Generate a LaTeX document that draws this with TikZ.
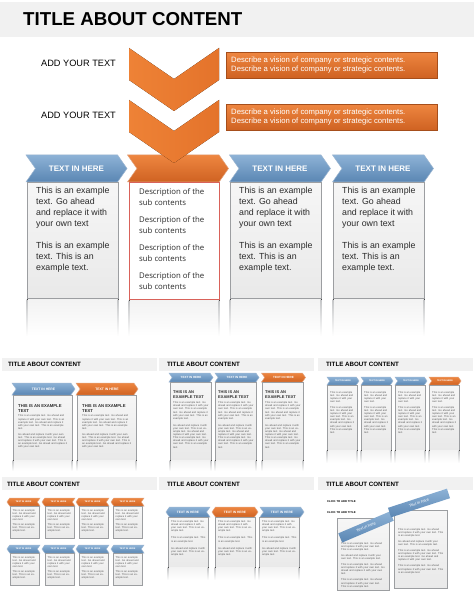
\documentclass[tikz,border=0pt]{standalone}
\usepackage{fontspec}
\setmainfont{Liberation Sans}
\newfontfamily\descfont{Open Sans}
\usetikzlibrary{shapes.symbols,positioning}

\definecolor{bandgray}{HTML}{F1F1F1}
\definecolor{blueT}{HTML}{8DB2D6}
\definecolor{blueB}{HTML}{5A86B3}
\definecolor{orT}{HTML}{EE8640}
\definecolor{orB}{HTML}{CF6222}
\definecolor{chevL}{HTML}{EE8236}
\definecolor{chevM}{HTML}{C35E1F}
\definecolor{chevR}{HTML}{E4732B}
\definecolor{cardline}{HTML}{9C9EA1}
\definecolor{cardtop}{HTML}{F6F6F6}
\definecolor{cardgray}{HTML}{E9E9E9}
\definecolor{boxred}{HTML}{D9625A}
\definecolor{bodygray}{HTML}{2B2B2B}

\newcommand\exa{This is an example text.}
\newcommand\goa{Go ahead and replace it with your own text.}
% faded mirror image below a card
\newcommand\reflbox[4]{%
  \fill[refl] (#1,#3) rectangle (#2,#4);
  \fill[edge] (#1-.4,#3) rectangle (#1+.4,#4);
  \fill[edge] (#2-.4,#3) rectangle (#2+.4,#4);}

\tikzset{
  tab/.style={signal, signal from=west, signal to=east, signal pointer angle=110,
    inner sep=0pt, text=white},
  bluetab/.style={tab, top color=blueT, bottom color=blueB, draw=blueB!60!white, line width=.5pt},
  orangetab/.style={tab, top color=orT, bottom color=orB, draw=orB!60!white, line width=.5pt},
  card/.style={draw=cardline, top color=cardtop, bottom color=cardgray, line width=.8pt},
  refl/.style={top color=black!5, bottom color=white},
  edge/.style={top color=cardline!60, bottom color=white},
  chev/.style={left color=chevL, middle color=chevM, right color=chevR},
  descbox/.style={top color=orT, bottom color=orB, draw=orB!80!black, line width=.3pt},
  ttl/.style={anchor=west, inner sep=0pt, font=\bfseries},
  body/.style={anchor=north west, align=left, inner sep=0pt, text=bodygray},
  tiny/.style={body, text=black!65, font=\fontsize{2.6}{3.1}\selectfont},
  ribbon/.style={top color=blueT, bottom color=blueB, text=white, inner sep=0pt,
    minimum height=10pt, font=\fontsize{4}{5}\selectfont},
}

\begin{document}
\begin{tikzpicture}[x=1pt,y=-1pt]
\useasboundingbox[fill=white] (0,0) rectangle (474,593);

% main slide
\fill[bandgray] (0,2) rectangle (474,37);
\node[ttl, font=\bfseries\fontsize{18.7}{20}\selectfont] (title) at (23,19.5) {TITLE ABOUT CONTENT};
\node[ttl, font=\fontsize{9.2}{10}\selectfont] (add1) at (41,63) {ADD YOUR TEXT};
\node[ttl, font=\fontsize{9.2}{10}\selectfont] (add2) at (41,115) {ADD YOUR TEXT};

\foreach \y/\n in {52/1,104/2}{
  \node[descbox, minimum width=211pt, minimum height=26pt, anchor=north west] (desc\n) at (226,\y) {};
  \node[body, text=white, font=\fontsize{7.7}{9}\selectfont, right=5pt of desc\n.west] (dtxt\n)
    {Describe a vision of company or strategic contents.\\Describe a vision of company or strategic contents.};
}

\foreach \x/\s/\t/\n in {76.5/bluetab/TEXT IN HERE/1,178/orangetab//2,280/bluetab/TEXT IN HERE/3,383/bluetab/TEXT IN HERE/4}
  \node[\s, minimum width=101pt, minimum height=27pt, font=\bfseries\fontsize{8}{9}\selectfont] (tab\n) at (\x,168.5) {\t};

\foreach \x/\n in {27/1,230/3,333/4}{
  \node[card, minimum width=91pt, minimum height=116pt, anchor=north west] (box\n) at (\x,182) {};
  \reflbox{\x}{\x+91}{299}{336}
  \node[body, font=\fontsize{8.8}{11}\selectfont, below right=5pt and 9pt of box\n.north west] (txt\n)
    {This is an example\\text. Go ahead\\and replace it with\\your own text\\[11pt]This is an example\\text. This is an\\example text.};
}
\node[draw=boxred, fill=white, line width=.8pt, minimum width=90pt, minimum height=117pt, anchor=north west] (box2) at (129,182) {};
\reflbox{129}{219}{300}{336}
\node[body, font=\descfont\fontsize{7.8}{11}\selectfont, below right=6pt and 10pt of box2.north west] (sub)
  {Description of the\\sub contents\\[6pt]Description of the\\sub contents\\[6pt]Description of the\\sub contents\\[6pt]Description of the\\sub contents};

\fill[chev] (129,48) -- (174,79) -- (219,48) -- (219,80) -- (174,111) -- (129,80) -- cycle;
\fill[chev] (129,100) -- (174,131) -- (219,100) -- (219,132) -- (174,163) -- (129,132) -- cycle;

% thumbnails
\foreach \x in {2,159,318}{
  \fill[bandgray] (\x,358) rectangle (\x+155,371);
  \fill[bandgray] (\x,477) rectangle (\x+155,490);
}
\foreach \x/\y/\n in {8/364.5/1,167/364.5/2,326/364.5/3,7/484/4,167/484/5,326/484/6}
  \node[ttl, font=\bfseries\fontsize{6.2}{7}\selectfont] (thtitle\n) at (\x,\y) {TITLE ABOUT CONTENT};

% thumbnail 1
\node[bluetab, minimum width=63pt, minimum height=12pt, font=\bfseries\fontsize{3.4}{4}\selectfont] (a1) at (43.5,389) {TEXT IN HERE};
\node[orangetab, minimum width=62pt, minimum height=12pt, font=\bfseries\fontsize{3.4}{4}\selectfont] (a2) at (107,389) {TEXT IN HERE};
\foreach \x/\n in {13/1,77/2}{
  \node[card, minimum width=59pt, minimum height=65pt, anchor=north west] (ac\n) at (\x,395) {};
  \reflbox{\x}{\x+59}{460}{471}
  \node[body, font=\bfseries\fontsize{4.2}{5}\selectfont, below right=9pt and 5pt of ac\n.north west] (ah\n) {THIS IS AN EXAMPLE\\TEXT};
  \node[tiny, text width=50pt, below=2.5pt of ah\n.south west, anchor=north west] (ab\n)
    {\exa{} \goa{} \exa{} \goa{} \exa\\[3pt]\goa{} \exa{} \goa{} \exa{} \goa};
}

% thumbnail 2
\foreach \x/\s/\n in {191/bluetab/1,237/bluetab/2,283.5/orangetab/3}
  \node[\s, minimum width=44pt, minimum height=9pt, font=\bfseries\fontsize{3}{4}\selectfont] (b\n) at (\x,377.5) {TEXT IN HERE};
\foreach \x/\n in {170/1,215/2,262/3}{
  \node[card, minimum width=41pt, minimum height=78pt, anchor=north west] (bc\n) at (\x,382) {};
  \reflbox{\x}{\x+41}{460}{471}
  \node[body, font=\bfseries\fontsize{4}{5}\selectfont, below right=9pt and 3pt of bc\n.north west] (bh\n) {THIS IS AN\\EXAMPLE TEXT};
  \node[tiny, text width=36pt, below=2.5pt of bh\n.south west, anchor=north west] (bb\n)
    {\exa{} \goa{} \exa{} \goa{} \exa\\[4pt]\goa{} \exa{} \goa{} \exa{} \goa{} \exa};
}

% thumbnail 3
\foreach \x/\s/\n in {343/bluetab/1,377/bluetab/2,411/bluetab/3,445/orangetab/4}
  \node[\s, minimum width=32pt, minimum height=8pt, font=\bfseries\fontsize{2.3}{3}\selectfont] (c\n) at (\x,381) {TEXT IN HERE};
\foreach \x/\n in {327/1,361/2,395/3,429/4}{
  \node[card, minimum width=30pt, minimum height=65pt, anchor=north west] (cc\n) at (\x,385) {};
  \reflbox{\x}{\x+30}{450}{463}
  \node[tiny, text width=25pt, below right=6pt and 3pt of cc\n.north west] (cb\n)
    {\exa{} \goa\\[3pt]\exa{} \goa{} \exa{} \goa{} \exa};
}

% thumbnail 4
\foreach \x/\n in {23.5/1,58.5/2,92.5/3,127.5/4}{
  \node[orangetab, signal to=west, signal from=east, minimum width=33pt, minimum height=8pt, font=\bfseries\fontsize{2.3}{3}\selectfont] (d\n) at (\x,502) {TEXT IN HERE};
  \node[bluetab, signal to=west, signal from=east, minimum width=33pt, minimum height=8pt, font=\bfseries\fontsize{2.3}{3}\selectfont] (e\n) at (\x,549) {TEXT IN HERE};
}
\foreach \x/\n in {10/1,45/2,79/3,113/4}{
  \node[card, minimum width=29pt, minimum height=32pt, anchor=north west] (dc\n) at (\x,506) {};
  \node[card, minimum width=29pt, minimum height=32pt, anchor=north west] (ec\n) at (\x,553) {};
  \node[tiny, text width=25pt, below right=3pt and 2.5pt of dc\n.north west] (db\n) {\exa{} \goa\\[2pt]\exa{} \exa};
  \node[tiny, text width=25pt, below right=3pt and 2.5pt of ec\n.north west] (eb\n) {\exa{} \goa\\[2pt]\exa{} \exa};
}

% thumbnail 5
\node[bluetab, signal to=west, signal from=east, minimum width=44pt, minimum height=10pt, font=\bfseries\fontsize{3.2}{4}\selectfont] (f1) at (188,512) {TEXT IN HERE};
\node[orangetab, signal to=west and east, signal from=nowhere, minimum width=46pt, minimum height=10pt, font=\bfseries\fontsize{3.2}{4}\selectfont] (f2) at (235,512) {TEXT IN HERE};
\node[bluetab, minimum width=44pt, minimum height=10pt, font=\bfseries\fontsize{3.2}{4}\selectfont] (f3) at (282,512) {TEXT IN HERE};
\foreach \x/\n in {168/1,215/2,259/3}{
  \node[card, minimum width=40pt, minimum height=50pt, anchor=north west] (fc\n) at (\x,517) {};
  \reflbox{\x}{\x+40}{567}{580}
  \node[tiny, text width=35pt, below right=3.5pt and 3pt of fc\n.north west] (fb\n)
    {\exa{} \goa{} \exa\\[4pt]\exa{} \exa\\[4pt]\goa{} \exa};
}

% thumbnail 6
\node[ttl, font=\bfseries\fontsize{2.8}{3}\selectfont] (click1) at (327,502) {CLICK TO ADD TITLE};
\node[ttl, font=\bfseries\fontsize{2.8}{3}\selectfont] (click2) at (327,513) {CLICK TO ADD TITLE};
\node[card, minimum width=52pt, minimum height=72pt, anchor=north west] (gc1) at (337,518) {};
\node[card, minimum width=53pt, minimum height=78pt, anchor=north west] (gc2) at (394,510) {};
\node[tiny, text width=44pt, below right=24pt and 4pt of gc1.north west] (gb1)
  {\exa{} \goa{} \exa\\[3pt]\goa{} \exa\\[3pt]\exa{} \goa{} \goa\\[3pt]\exa{} \goa{} \exa};
\node[tiny, text width=45pt, below right=18pt and 4pt of gc2.north west] (gb2)
  {\exa{} \goa{} \exa\\[3pt]\goa{} \exa\\[3pt]\exa{} \goa{} \exa{} \goa\\[3pt]\exa{} \goa{} \exa};
\node[ribbon, rotate=23, minimum width=56pt] (r1) at (366,527) {Text in here};
\node[ribbon, rotate=18, minimum width=62pt] (r2) at (419,503) {Text in here};
\end{tikzpicture}
\end{document}
